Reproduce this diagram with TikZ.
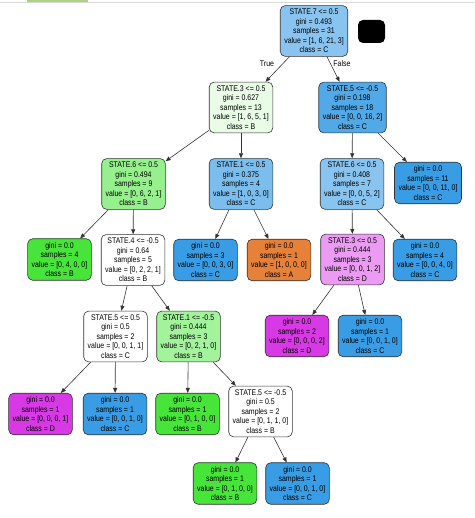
\documentclass[tikz,border=0pt]{standalone}
\usepackage{fontspec}
\newfontfamily\treefont[FakeStretch=0.85]{Liberation Sans}
\usetikzlibrary{arrows.meta}

% class colours, full and blended
\definecolor{colA}{RGB}{229,129,57}
\definecolor{colB}{RGB}{71,229,57}
\definecolor{colC}{RGB}{57,157,229}
\definecolor{colD}{RGB}{215,57,229}
\definecolor{paleB}{RGB}{232,252,230}
\definecolor{midB}{RGB}{150,240,142}
\definecolor{lightB}{RGB}{163,242,156}
\definecolor{lightC}{RGB}{136,196,239}
\definecolor{midC}{RGB}{123,190,238}
\definecolor{deepC}{RGB}{82,169,232}
\definecolor{lightD}{RGB}{235,156,242}

\tikzstyle{tree} = [rectangle, draw=black!80, line width=0.6pt, rounded corners=5pt,
align=center, inner xsep=4pt, inner ysep=3.5pt, font=\treefont\fontsize{8.2}{9.5}\selectfont]
\tikzstyle{split} = [tree, fill=white]
\tikzstyle{leafA} = [tree, fill=colA]
\tikzstyle{leafB} = [tree, fill=colB]
\tikzstyle{leafC} = [tree, fill=colC]
\tikzstyle{leafD} = [tree, fill=colD]
\tikzstyle{lbl} = [font=\treefont\fontsize{8.2}{9.5}\selectfont, inner sep=1pt]
\tikzstyle{arrow} = [draw=black!80, line width=0.6pt, -{Triangle[length=5pt,width=4pt]}]

\begin{document}
\begin{tikzpicture}[x=1pt,y=-1pt]

\useasboundingbox (0,0) rectangle (474,518);
\draw[black!15] (0,2.5) -- (474,2.5);
\fill[olive!45!green!45] (27,0) rectangle (88,2);

% Top
\node[split,fill=lightC](root) at (314,31) {STATE.7 <= 0.5\\gini = 0.493\\samples = 31\\value = [1, 6, 21, 3]\\class = C};
\node[fill=black,rounded corners=5pt,minimum width=27pt,minimum height=23pt](blot) at (371.5,31.5) {};

% Level 1
\node[split,fill=paleB](s3a) at (241,107.5) {STATE.3 <= 0.5\\gini = 0.627\\samples = 13\\value = [1, 6, 5, 1]\\class = B};
\node[split,fill=deepC](s5a) at (352.5,107.5) {STATE.5 <= -0.5\\gini = 0.198\\samples = 18\\value = [0, 0, 16, 2]\\class = C};

% Level 2
\node[split,fill=midB](s6a) at (133.5,184) {STATE.6 <= 0.5\\gini = 0.494\\samples = 9\\value = [0, 6, 2, 1]\\class = B};
\node[split,fill=midC](s1a) at (241,184) {STATE.1 <= 0.5\\gini = 0.375\\samples = 4\\value = [1, 0, 3, 0]\\class = C};
\node[split,fill=lightC](s6b) at (352,184) {STATE.6 <= 0.5\\gini = 0.408\\samples = 7\\value = [0, 0, 5, 2]\\class = C};
\node[leafC](c11) at (428,183) {gini = 0.0\\samples = 11\\value = [0, 0, 11, 0]\\class = C};

% Level 3
\node[leafB](b4) at (59.5,259.5) {gini = 0.0\\samples = 4\\value = [0, 4, 0, 0]\\class = B};
\node[split](s4a) at (133,260) {STATE.4 <= -0.5\\gini = 0.64\\samples = 5\\value = [0, 2, 2, 1]\\class = B};
\node[leafC](c3) at (205.5,260) {gini = 0.0\\samples = 3\\value = [0, 0, 3, 0]\\class = C};
\node[leafA](a1) at (279,260) {gini = 0.0\\samples = 1\\value = [1, 0, 0, 0]\\class = A};
\node[split,fill=lightD](s3b) at (352.5,259.5) {STATE.3 <= 0.5\\gini = 0.444\\samples = 3\\value = [0, 0, 1, 2]\\class = D};
\node[leafC](c4) at (425,260) {gini = 0.0\\samples = 4\\value = [0, 0, 4, 0]\\class = C};

% Level 4
\node[split](s5b) at (115.5,336.5) {STATE.5 <= 0.5\\gini = 0.5\\samples = 2\\value = [0, 0, 1, 1]\\class = C};
\node[split,fill=lightB](s1b) at (188.5,336.5) {STATE.1 <= -0.5\\gini = 0.444\\samples = 3\\value = [0, 2, 1, 0]\\class = B};
\node[leafD](d2) at (297,336) {gini = 0.0\\samples = 2\\value = [0, 0, 0, 2]\\class = D};
\node[leafC](c1a) at (370,336) {gini = 0.0\\samples = 1\\value = [0, 0, 1, 0]\\class = C};

% Level 5
\node[leafD](d1) at (40.5,414) {gini = 0.0\\samples = 1\\value = [0, 0, 0, 1]\\class = D};
\node[leafC](c1b) at (115,414) {gini = 0.0\\samples = 1\\value = [0, 0, 1, 0]\\class = C};
\node[leafB](b1a) at (187.5,414) {gini = 0.0\\samples = 1\\value = [0, 1, 0, 0]\\class = B};
\node[split](s5c) at (260.5,411.5) {STATE.5 <= -0.5\\gini = 0.5\\samples = 2\\value = [0, 1, 1, 0]\\class = B};

% Level 6
\node[leafB](b1b) at (225,483.5) {gini = 0.0\\samples = 1\\value = [0, 1, 0, 0]\\class = B};
\node[leafC](c1c) at (297.5,483.5) {gini = 0.0\\samples = 1\\value = [0, 0, 1, 0]\\class = C};

% Edges
\path[arrow] (root) -- (s3a);
\path[arrow] (root) -- (s5a);
\node[lbl](true) at (267,64) {True};
\node[lbl](false) at (342,64) {False};
\path[arrow] (s3a) -- (s6a);
\path[arrow] (s3a) -- (s1a);
\path[arrow] (s5a) -- (s6b);
\path[arrow] (s5a) -- (c11);
\path[arrow] (s6a) -- (b4);
\path[arrow] (s6a) -- (s4a);
\path[arrow] (s1a) -- (c3);
\path[arrow] (s1a) -- (a1);
\path[arrow] (s6b) -- (s3b);
\path[arrow] (s6b) -- (c4);
\path[arrow] (s4a) -- (s5b);
\path[arrow] (s4a) -- (s1b);
\path[arrow] (s3b) -- (d2);
\path[arrow] (s3b) -- (c1a);
\path[arrow] (s5b) -- (d1);
\path[arrow] (s5b) -- (c1b);
\path[arrow] (s1b) -- (b1a);
\path[arrow] (s1b) -- (s5c);
\path[arrow] (s5c) -- (b1b);
\path[arrow] (s5c) -- (c1c);

\end{tikzpicture}
\end{document}
